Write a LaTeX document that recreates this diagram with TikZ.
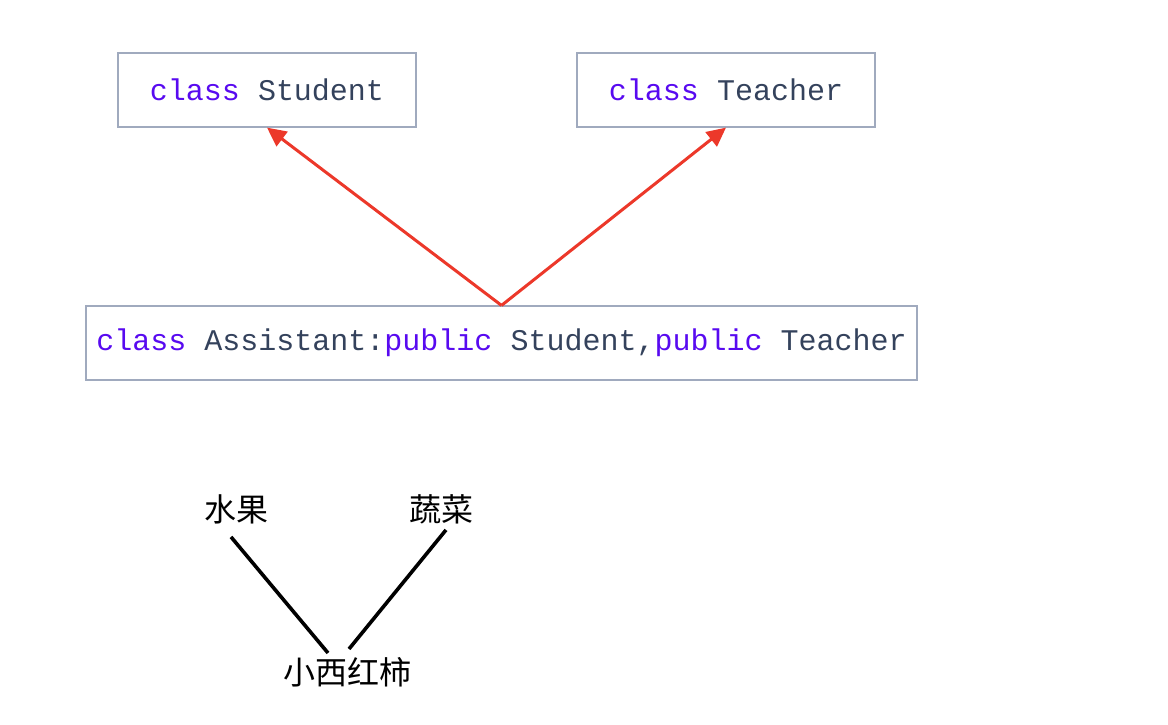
\documentclass[tikz,border=0pt]{standalone}
\usepackage{fontspec}
\setmonofont{Liberation Mono}
\newfontfamily\cjk{Noto Sans CJK SC}
\usepackage{tikz}
\usetikzlibrary{arrows.meta}
\definecolor{kwblue}{RGB}{88,10,240}
\definecolor{codegray}{RGB}{52,66,92}
\definecolor{boxgray}{RGB}{160,170,190}
\definecolor{arrowred}{RGB}{236,56,42}
\newcommand{\kw}[1]{\textcolor{kwblue}{#1}}
\tikzset{
    classbox/.style={draw=boxgray, line width=1.2pt, inner sep=0pt,
    	minimum width=298pt, minimum height=74pt,
    	text=codegray, font=\ttfamily\fontsize{30}{30}\selectfont}
}
\tikzset{
    inherit/.style={draw=arrowred, line width=3pt,
    	-{Triangle[length=19pt,width=18pt]}}
}
\tikzset{
	word/.style={inner sep=0pt, font=\cjk\fontsize{32}{32}\selectfont},
	stem/.style={line width=3.6pt}
}

\begin{document}
\begin{tikzpicture}[x=1pt, y=-1pt]
	\useasboundingbox (0,0) rectangle (1168,724);
	\node (student) [classbox] at (267, 90) {\kw{class} Student};
	\node (teacher) [classbox] at (726, 90) {\kw{class} Teacher};
	\node (assistant) [classbox, minimum width=831pt] at (501.5, 343)
		{\kw{class} Assistant:\kw{public} Student,\kw{public} Teacher};
	
	\draw (assistant.north) edge [inherit] (student.south);
	\draw (assistant.north) edge [inherit] (teacher.south);
	
	\node (fruit) [word] at (236, 509) {水果};
	\node (veg) [word] at (441, 509) {蔬菜};
	\node (tomato) [word] at (347, 672) {小西红柿};
	
	\draw ([xshift=-5pt, yshift=-13pt]fruit.south) edge [stem] ([xshift=-19pt, yshift=4pt]tomato.north);
	\draw ([xshift=5pt, yshift=-6pt]veg.south) edge [stem] ([xshift=2pt, yshift=8pt]tomato.north);
\end{tikzpicture}
\end{document}
